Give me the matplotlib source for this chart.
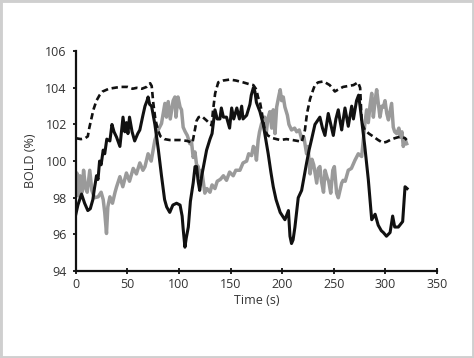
import matplotlib
matplotlib.use("Agg")
import matplotlib.pyplot as plt
from matplotlib.patches import Rectangle

# Black solid series
t_black = [0, 2, 5.5, 8.5, 11.6, 14, 16.5, 18, 20, 21.5, 23, 24.5, 26.5, 28, 30, 33, 35, 37, 39.5, 42.7,
           45.7, 47.5, 49, 50.5, 52, 54.5, 57, 60, 62, 65, 67, 69, 70, 71.5, 73.4, 76.6, 80, 83, 86, 88,
           91, 94, 97.6, 101, 103, 104, 105.7, 107, 109, 111, 113.7, 115.5, 117, 118.5, 120, 122, 124,
           126.7, 130, 132, 134.8, 137, 139.6, 141, 143, 146, 149, 151, 153, 156, 158.5, 160.7, 162,
           165.5, 168.7, 170, 172, 173.5, 175, 178.4, 181.6, 184, 186.4, 189, 191.3, 194, 198, 202.6,
           206, 207.5, 209, 210.5, 212.3, 215.5, 218.8, 221, 223.6, 226, 228.5, 231.7, 236.5, 239,
           241.4, 244.6, 247, 249.5, 252, 254.3, 256, 257.6, 260.8, 264, 267.3, 269, 272, 274, 275.4,
           277.5, 280, 283.4, 286.7, 290, 293, 296, 298, 301, 304.5, 307, 309, 312.5, 316.7, 319, 321]
v_black = [97.1, 97.6, 98.2, 97.7, 97.3, 97.4, 97.9, 98.5, 99.2, 99.0, 100.0, 99.8, 100.6, 100.4, 101.2,
           101.1, 102.0, 101.6, 101.3, 100.8, 102.4, 101.6, 102.1, 101.5, 102.4, 101.6, 101.1, 101.5,
           101.7, 102.5, 103.0, 103.3, 103.5, 103.1, 103.0, 102.0, 100.6, 99.2, 97.9, 97.5, 97.2, 97.6,
           97.7, 97.6, 97.0, 96.3, 95.3, 95.8, 96.4, 97.8, 98.8, 99.7, 99.7, 98.9, 98.4, 99.2, 99.8,
           100.6, 101.2, 101.5, 102.8, 102.3, 102.3, 102.9, 102.4, 102.4, 101.8, 102.9, 102.3, 102.9,
           102.3, 103.0, 102.3, 102.5, 103.1, 103.6, 104.0, 103.8, 103.2, 102.7, 102.0, 101.2, 100.4,
           99.4, 98.6, 97.9, 97.2, 96.8, 97.3, 95.9, 95.5, 95.7, 96.4, 98.0, 98.4, 99.1, 99.9, 100.6,
           101.2, 102.0, 102.4, 101.8, 101.4, 102.6, 102.0, 101.4, 102.3, 102.8, 102.2, 101.7, 102.9,
           101.9, 103.0, 102.3, 103.3, 103.6, 103.0, 102.0, 100.8, 99.0, 96.8, 97.1, 96.5, 96.2, 96.1,
           95.9, 96.1, 97.0, 96.4, 96.4, 96.7, 98.6, 98.5]

# Black dashed series
t_dash = [0, 5, 9, 11.6, 13, 15, 17, 20, 23, 26, 32, 43, 50, 55, 59, 64, 68.5, 72, 73.5, 75, 77, 79.5,
          82, 86, 91, 101, 108, 113, 115, 117, 119, 122, 125, 127, 131.5, 133, 135, 138, 143, 149, 155,
          162, 168, 172, 175, 176.5, 178.5, 181, 183, 186, 191, 198, 204, 210, 215, 219, 222, 224, 227,
          230, 232, 235, 240, 243, 246, 249, 251, 254, 259, 264, 269, 273.5, 275.5, 277, 280, 284, 288,
          293, 297.5, 301, 304.5, 309, 314, 317, 319, 320.6]
v_dash = [101.25, 101.2, 101.25, 101.35, 101.8, 102.3, 102.8, 103.3, 103.6, 103.8, 103.95, 104.05,
          104.05, 103.95, 104.0, 103.95, 104.05, 104.25, 104.1, 103.2, 102.3, 101.7, 101.35, 101.2,
          101.15, 101.15, 101.1, 101.0, 101.6, 102.2, 102.4, 102.45, 102.3, 102.2, 101.95, 102.8,
          103.7, 104.3, 104.4, 104.45, 104.4, 104.3, 104.2, 104.15, 103.9, 103.5, 103.2, 102.4, 101.7,
          101.4, 101.25, 101.15, 101.2, 101.15, 101.1, 101.05, 101.7, 102.6, 103.4, 103.9, 104.2,
          104.3, 104.35, 104.25, 104.15, 103.95, 103.8, 103.9, 104.05, 104.1, 104.15, 104.3, 104.0,
          102.1, 101.7, 101.5, 101.35, 101.15, 101.0, 101.05, 101.15, 101.25, 101.33, 101.3, 101.25,
          101.15]

# Grey series
t_grey = [0, 1, 2.5, 4, 6, 7.5, 9.5, 11, 13.5, 15.5, 18, 21.6, 24.5, 26.5, 28, 29.7, 31, 33, 35.5, 38,
          39.5, 42.7, 45.5, 49, 52, 55.6, 58.7, 62, 65, 67, 70, 73, 76.6, 79.8, 83, 86.3, 87.8, 89.5,
          91.5, 94.3, 96, 97, 99, 101, 102.4, 104, 106, 108, 110.5, 112, 113.7, 115.4, 117, 118.6, 120,
          122, 125, 127, 130, 132, 134.8, 137, 140, 143, 146, 149, 152.5, 155, 159, 162, 165.5, 167.5,
          170.3, 172, 173.5, 175, 176.7, 178, 180, 183, 184.5, 186, 188, 189.8, 191.3, 193, 194.6,
          196.5, 198, 199.4, 201, 202.6, 205, 206.5, 209, 212, 214, 216.5, 218.8, 221, 223.6, 225, 227,
          228.8, 230.5, 233.4, 235, 236.5, 238, 240, 241.5, 243.5, 245, 247, 249, 250.5, 252.7, 254.3,
          257.6, 259, 261, 264, 267, 270.5, 273.7, 277, 278.5, 280, 281.8, 283.4, 285, 286.7, 288.3,
          290, 291.5, 293, 294.7, 296.5, 298, 299.6, 301.3, 302.9, 304.5, 306, 307.6, 309, 311, 313,
          314.5, 316, 317.3, 319, 320.6]
v_grey = [98.6, 99.35, 98.1, 99.2, 98.3, 99.5, 98.5, 98.3, 99.5, 98.4, 98.0, 98.05, 98.3, 97.9, 97.2,
          96.05, 97.5, 98.05, 97.7, 98.3, 98.6, 99.15, 98.6, 99.35, 98.9, 99.6, 99.3, 99.9, 99.5, 99.7,
          100.4, 100.0, 101.15, 101.7, 102.05, 103.15, 102.4, 103.25, 102.3, 103.3, 103.5, 102.4,
          103.5, 102.95, 102.8, 101.85, 101.6, 101.4, 100.95, 101.1, 100.2, 100.5, 99.8, 99.7, 99.15,
          99.5, 98.25, 98.5, 98.3, 98.7, 98.5, 98.9, 99.0, 99.2, 98.95, 99.4, 99.2, 99.5, 99.5, 99.9,
          100.0, 100.4, 100.3, 100.8, 100.7, 100.05, 101.15, 101.6, 102.05, 102.4, 101.5, 102.3, 102.7,
          101.8, 102.8, 101.5, 102.95, 103.5, 103.9, 103.3, 103.5, 102.95, 102.5, 102.0, 101.7, 101.8,
          101.6, 101.7, 101.2, 101.3, 100.4, 100.8, 99.3, 100.1, 99.8, 98.8, 99.6, 99.7, 98.9, 98.3,
          99.5, 99.1, 98.9, 98.25, 99.5, 99.7, 98.25, 98.0, 98.8, 98.95, 98.9, 99.5, 99.6, 100.05,
          100.4, 100.25, 101.1, 102.0, 102.8, 102.1, 103.0, 103.7, 102.4, 103.3, 103.9, 103.2, 102.4,
          103.0, 102.95, 103.3, 102.6, 102.25, 102.7, 103.15, 101.85, 101.6, 101.5, 101.8, 101.3,
          101.6, 100.8, 101.2, 100.95]

x_ticks = [0, 50, 100, 150, 200, 250, 300, 350]
y_ticks = [94, 96, 98, 100, 102, 104, 106]

plt.rcParams['font.family'] = ['Open Sans', 'DejaVu Sans']

fig = plt.figure(figsize=(4.74, 3.58), dpi=100)
ax = fig.add_axes([0.160, 0.243, 0.762, 0.614])

ax.plot(t_grey, v_grey, color='#9a9a9a', lw=2.5, solid_joinstyle='round', zorder=2)
ax.plot(t_black, v_black, color='#111111', lw=2.2, solid_joinstyle='round', zorder=3)
ax.plot(t_dash, v_dash, color='#111111', lw=1.9, linestyle=(0, (2.4, 1.4)), zorder=4)

ax.set_xlim(0, 350)
ax.set_ylim(94, 106)
ax.set_xticks(x_ticks)
ax.set_yticks(y_ticks)
ax.spines['top'].set_visible(False)
ax.spines['right'].set_visible(False)
for s in ('left', 'bottom'):
    ax.spines[s].set_linewidth(1.6)
    ax.spines[s].set_color('#111111')
ax.tick_params(axis='x', direction='inout', length=4, width=1.3, labelsize=9, colors='#111111',
               labelcolor='#333333', pad=3)
ax.tick_params(axis='y', direction='out', length=2.5, width=1.3, labelsize=9, colors='#111111',
               labelcolor='#333333', pad=4)
ax.set_xlabel('Time (s)', fontsize=9, color='#333333', labelpad=2)
ax.set_ylabel('BOLD (%)', fontsize=9, color='#333333', labelpad=6)

fig.patches.append(Rectangle((0, 0), 1, 1, transform=fig.transFigure, fill=False,
                             edgecolor='#cfcfcf', linewidth=3.5, zorder=10))

fig.savefig('out.png', dpi=100)
